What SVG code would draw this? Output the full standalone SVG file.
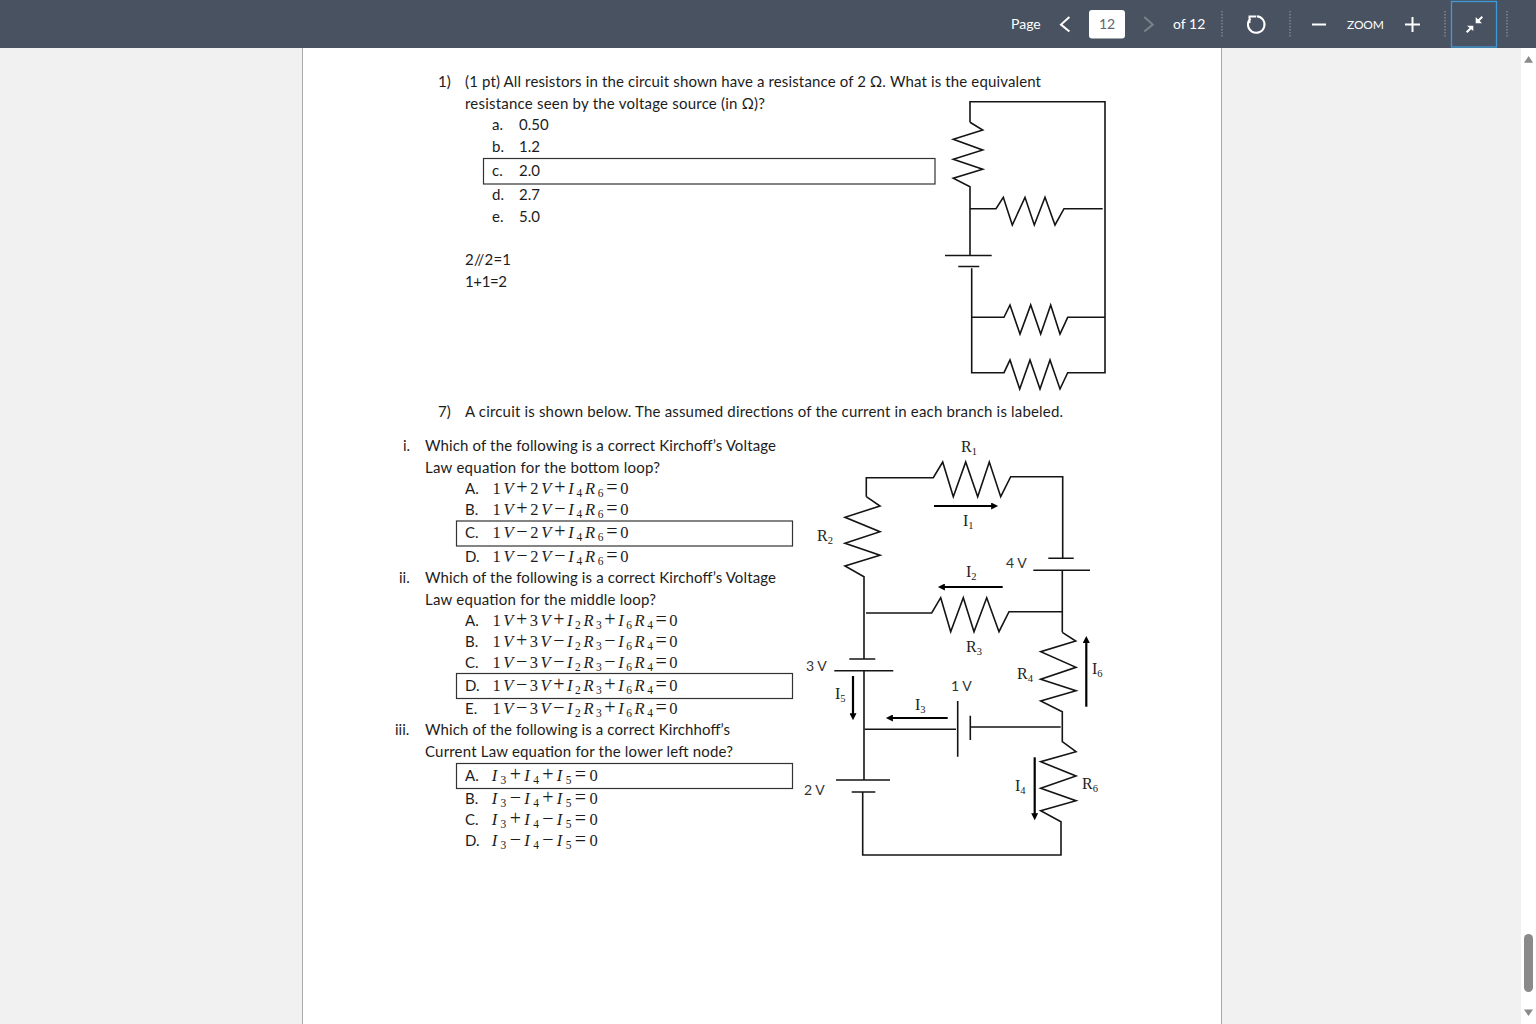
<svg xmlns="http://www.w3.org/2000/svg" width="1536" height="1024" viewBox="0 0 1536 1024">
<style>
text{font-family:"Lato","Carlito","Liberation Sans",sans-serif;font-size:15px;fill:#1c1c1c}
.m{font-family:"Liberation Serif","Times New Roman",serif;font-size:16.5px;white-space:pre}
.i{font-style:italic}
.s{font-size:11.5px}
.o{font-size:20px}
.l{font-family:"Liberation Serif","Times New Roman",serif;font-size:16px;fill:#222}
.l2{font-size:10.5px}
.v{font-size:14px;fill:#333}
.w{fill:none;stroke:#141414;stroke-width:1.6;stroke-linejoin:miter}
.a{fill:none;stroke:#000;stroke-width:2.2;marker-end:url(#ah)}
.b{fill:#fff;stroke:#333;stroke-width:1.2}
.t{font-size:14px;fill:#fff}
.sep{stroke:#7d8590;stroke-width:1.5;stroke-dasharray:1.5 1.5;fill:none}
.ic{fill:none;stroke:#fff;stroke-width:2}
</style>
<defs>
<marker id="ah" viewBox="0 0 8 8" refX="1" refY="4" markerWidth="8" markerHeight="7" markerUnits="userSpaceOnUse" orient="auto"><path d="M0 0L8 4L0 8z" fill="#000"/></marker>
</defs>
<rect width="1536" height="1024" fill="#f1f1f1"/>
<rect x="302.500" y="40" width="919" height="1000" fill="#fff" stroke="#a9a9a9"/>
<g id="scrollbar">
<rect x="1521" y="48" width="15" height="976" fill="#fff"/>
<path d="M1524 62.700L1528.700 56L1533 62.700z" fill="#8a8a8a"/>
<rect x="1524" y="934" width="9" height="58" rx="4.500" fill="#8a8a8a"/>
<path d="M1524 1009.500L1533 1009.500L1528.500 1016z" fill="#8a8a8a"/>
</g>
<g id="toolbar">
<rect width="1536" height="48" fill="#495260"/>
<text class="t" x="1011" y="29">Page</text>
<path class="ic" d="M1069.400 17L1061 24.600L1069.400 31.500"/>
<rect x="1089" y="10" width="36" height="28.500" rx="3" fill="#fff"/>
<text x="1107" y="29" text-anchor="middle" style="font-size:14px;fill:#5d6672">12</text>
<path class="ic" d="M1144.300 17L1152.800 24.600L1144.300 31.500" style="stroke:#7b828c"/>
<text class="t" x="1173" y="29">of 12</text>
<path class="sep" d="M1222 11V38M1290 11V38M1445 11V38M1507 11V38"/>
<path class="ic" d="M1250.500 18.500A8.300 8.300 0 1 0 1256.700 16.200M1249.500 23V16.500H1256"/>
<path class="ic" d="M1312 24.600H1326M1405 24.600H1420M1412.500 17V32"/>
<text x="1347" y="29" style="font-size:12px;fill:#fff" textLength="37">ZOOM</text>
<rect x="1451.500" y="1.500" width="45" height="45.500" fill="none" stroke="#3d9bd9" stroke-width="1.300"/>
<path d="M1482.300 16.700L1477.500 21.500M1466.700 32.300L1471.500 27.500" stroke="#fff" stroke-width="2" fill="none"/>
<path d="M1475.700 17V23.300H1482zM1473.300 31V25.700H1467z" fill="#fff"/>
</g>
<g id="answer-boxes">
<rect class="b" x="483.500" y="158.500" width="451.500" height="25.500"/>
<rect class="b" x="456.500" y="521" width="336" height="25"/>
<rect class="b" x="456.500" y="673.500" width="336" height="25"/>
<rect class="b" x="456.500" y="763.500" width="336" height="25"/>
</g>
<g id="question-1">
<text x="438" y="87">1)</text>
<text x="465" y="87" textLength="576">(1 pt) All resistors in the circuit shown have a resistance of 2 Ω. What is the equivalent</text>
<text x="465" y="109" textLength="300">resistance seen by the voltage source (in Ω)?</text>
<text x="492" y="130">a.</text><text x="519" y="130">0.50</text>
<text x="492" y="152">b.</text><text x="519" y="152">1.2</text>
<text x="492" y="176">c.</text><text x="519" y="176">2.0</text>
<text x="492" y="200">d.</text><text x="519" y="200">2.7</text>
<text x="492" y="222">e.</text><text x="519" y="222">5.0</text>
<text x="465" y="265" textLength="46">2//2=1</text>
<text x="465" y="287" textLength="42">1+1=2</text>
</g>
<g id="question-7">
<text x="438" y="417">7)</text>
<text x="465" y="417" textLength="598">A circuit is shown below. The assumed directions of the current in each branch is labeled.</text>
<text x="403" y="451">i.</text>
<text x="425" y="451" textLength="351">Which of the following is a correct Kirchoff’s Voltage</text>
<text x="425" y="473" textLength="235">Law equation for the bottom loop?</text>
<text x="465" y="494">A.</text>
<text class="m" x="492.500" y="494" textLength="136">1<tspan class="i">V</tspan><tspan class="o">+</tspan>2<tspan class="i">V</tspan><tspan class="o">+</tspan><tspan class="i">I</tspan><tspan class="s" dy="3">4</tspan><tspan class="i" dy="-3">R</tspan><tspan class="s" dy="3">6</tspan><tspan class="o" dy="-3">=</tspan>0</text>
<text x="465" y="515">B.</text>
<text class="m" x="492.500" y="515" textLength="136">1<tspan class="i">V</tspan><tspan class="o">+</tspan>2<tspan class="i">V</tspan><tspan class="o">−</tspan><tspan class="i">I</tspan><tspan class="s" dy="3">4</tspan><tspan class="i" dy="-3">R</tspan><tspan class="s" dy="3">6</tspan><tspan class="o" dy="-3">=</tspan>0</text>
<text x="465" y="538">C.</text>
<text class="m" x="492.500" y="538" textLength="136">1<tspan class="i">V</tspan><tspan class="o">−</tspan>2<tspan class="i">V</tspan><tspan class="o">+</tspan><tspan class="i">I</tspan><tspan class="s" dy="3">4</tspan><tspan class="i" dy="-3">R</tspan><tspan class="s" dy="3">6</tspan><tspan class="o" dy="-3">=</tspan>0</text>
<text x="465" y="562">D.</text>
<text class="m" x="492.500" y="562" textLength="136">1<tspan class="i">V</tspan><tspan class="o">−</tspan>2<tspan class="i">V</tspan><tspan class="o">−</tspan><tspan class="i">I</tspan><tspan class="s" dy="3">4</tspan><tspan class="i" dy="-3">R</tspan><tspan class="s" dy="3">6</tspan><tspan class="o" dy="-3">=</tspan>0</text>
<text x="399" y="583">ii.</text>
<text x="425" y="583" textLength="351">Which of the following is a correct Kirchoff’s Voltage</text>
<text x="425" y="605" textLength="231">Law equation for the middle loop?</text>
<text x="465" y="626">A.</text>
<text class="m" x="492.500" y="626" textLength="185">1<tspan class="i">V</tspan><tspan class="o">+</tspan>3<tspan class="i">V</tspan><tspan class="o">+</tspan><tspan class="i">I</tspan><tspan class="s" dy="3">2</tspan><tspan class="i" dy="-3">R</tspan><tspan class="s" dy="3">3</tspan><tspan class="o" dy="-3">+</tspan><tspan class="i">I</tspan><tspan class="s" dy="3">6</tspan><tspan class="i" dy="-3">R</tspan><tspan class="s" dy="3">4</tspan><tspan class="o" dy="-3">=</tspan>0</text>
<text x="465" y="647">B.</text>
<text class="m" x="492.500" y="647" textLength="185">1<tspan class="i">V</tspan><tspan class="o">+</tspan>3<tspan class="i">V</tspan><tspan class="o">−</tspan><tspan class="i">I</tspan><tspan class="s" dy="3">2</tspan><tspan class="i" dy="-3">R</tspan><tspan class="s" dy="3">3</tspan><tspan class="o" dy="-3">−</tspan><tspan class="i">I</tspan><tspan class="s" dy="3">6</tspan><tspan class="i" dy="-3">R</tspan><tspan class="s" dy="3">4</tspan><tspan class="o" dy="-3">=</tspan>0</text>
<text x="465" y="668">C.</text>
<text class="m" x="492.500" y="668" textLength="185">1<tspan class="i">V</tspan><tspan class="o">−</tspan>3<tspan class="i">V</tspan><tspan class="o">−</tspan><tspan class="i">I</tspan><tspan class="s" dy="3">2</tspan><tspan class="i" dy="-3">R</tspan><tspan class="s" dy="3">3</tspan><tspan class="o" dy="-3">−</tspan><tspan class="i">I</tspan><tspan class="s" dy="3">6</tspan><tspan class="i" dy="-3">R</tspan><tspan class="s" dy="3">4</tspan><tspan class="o" dy="-3">=</tspan>0</text>
<text x="465" y="691">D.</text>
<text class="m" x="492.500" y="691" textLength="185">1<tspan class="i">V</tspan><tspan class="o">−</tspan>3<tspan class="i">V</tspan><tspan class="o">+</tspan><tspan class="i">I</tspan><tspan class="s" dy="3">2</tspan><tspan class="i" dy="-3">R</tspan><tspan class="s" dy="3">3</tspan><tspan class="o" dy="-3">+</tspan><tspan class="i">I</tspan><tspan class="s" dy="3">6</tspan><tspan class="i" dy="-3">R</tspan><tspan class="s" dy="3">4</tspan><tspan class="o" dy="-3">=</tspan>0</text>
<text x="465" y="714">E.</text>
<text class="m" x="492.500" y="714" textLength="185">1<tspan class="i">V</tspan><tspan class="o">−</tspan>3<tspan class="i">V</tspan><tspan class="o">−</tspan><tspan class="i">I</tspan><tspan class="s" dy="3">2</tspan><tspan class="i" dy="-3">R</tspan><tspan class="s" dy="3">3</tspan><tspan class="o" dy="-3">+</tspan><tspan class="i">I</tspan><tspan class="s" dy="3">6</tspan><tspan class="i" dy="-3">R</tspan><tspan class="s" dy="3">4</tspan><tspan class="o" dy="-3">=</tspan>0</text>
<text x="395" y="735">iii.</text>
<text x="425" y="735" textLength="305">Which of the following is a correct Kirchhoff’s</text>
<text x="425" y="757" textLength="308">Current Law equation for the lower left node?</text>
<text x="465" y="781">A.</text>
<text class="m" x="491.700" y="781" textLength="106"><tspan class="i">I</tspan><tspan class="s" dy="3">3</tspan><tspan class="o" dy="-3">+</tspan><tspan class="i">I</tspan><tspan class="s" dy="3">4</tspan><tspan class="o" dy="-3">+</tspan><tspan class="i">I</tspan><tspan class="s" dy="3">5</tspan><tspan class="o" dy="-3">=</tspan>0</text>
<text x="465" y="804">B.</text>
<text class="m" x="491.700" y="804" textLength="106"><tspan class="i">I</tspan><tspan class="s" dy="3">3</tspan><tspan class="o" dy="-3">−</tspan><tspan class="i">I</tspan><tspan class="s" dy="3">4</tspan><tspan class="o" dy="-3">+</tspan><tspan class="i">I</tspan><tspan class="s" dy="3">5</tspan><tspan class="o" dy="-3">=</tspan>0</text>
<text x="465" y="825">C.</text>
<text class="m" x="491.700" y="825" textLength="106"><tspan class="i">I</tspan><tspan class="s" dy="3">3</tspan><tspan class="o" dy="-3">+</tspan><tspan class="i">I</tspan><tspan class="s" dy="3">4</tspan><tspan class="o" dy="-3">−</tspan><tspan class="i">I</tspan><tspan class="s" dy="3">5</tspan><tspan class="o" dy="-3">=</tspan>0</text>
<text x="465" y="846">D.</text>
<text class="m" x="491.700" y="846" textLength="106"><tspan class="i">I</tspan><tspan class="s" dy="3">3</tspan><tspan class="o" dy="-3">−</tspan><tspan class="i">I</tspan><tspan class="s" dy="3">4</tspan><tspan class="o" dy="-3">−</tspan><tspan class="i">I</tspan><tspan class="s" dy="3">5</tspan><tspan class="o" dy="-3">=</tspan>0</text>
</g>
<g id="circuit-1-connectors">
<path class="w" d="M970 122.300V101.700H1105V372.700H1067.700L1060 389L1050 360L1040 389L1030 360L1019.700 389L1010 360L1004 372.700H971.700V268.300"/>
<path class="w" d="M970 122.300L982.700 130L953.300 139.300L982.700 150L953.300 159.300L982.700 169.300L953.300 178.300L970 186.700V255"/>
<path class="w" d="M970 208.700H996L1003.300 197.300L1012.300 225L1025 197.300L1034.300 225L1045 197.300L1055 225L1064 208.700H1102.700"/>
<path class="w" d="M945 255.500H991.700M958.300 266.500H979.300"/>
<path class="w" d="M971.700 317.300H1004L1010 305L1020 334L1030.700 305L1040.700 334L1050.700 305L1060 334L1067.700 317.300H1105"/>
</g>
<g id="circuit-7-connectors">
<path class="w" d="M866.300 496.700V477.700H933.300L942.700 462L953.300 496.700L965.700 462L977.700 496.700L989.300 462L1000.700 496.700L1010.700 476.700H1062.700V558.300"/>
<path class="w" d="M866.300 496.700L880 506L845 517.300L880 531.700L845 543.300L880 555.300L845 566L864 576.700V659"/>
<path class="w" d="M1048.300 558.300H1073.700M1033.300 570.300H1090M1062.300 570.300V632.300"/>
<path class="w" d="M866 613H931.700L940.700 597.700L950.700 631.700L963.300 597.700L974 631.700L986.700 597.700L999 631.700L1009 611.700H1062.300"/>
<path class="w" d="M1062.300 632.300L1075.700 641L1040.700 651.700L1076 667.300L1040.700 679.300L1076 690.700L1040.700 701L1062.300 711.700V741.700L1076 751.700L1040.700 761.700L1076 776L1040.700 788.300L1076 800.700L1040.700 810.700L1061 821.700V855H862.700V792"/>
<path class="w" d="M849.300 659H875.300M834.300 670.700H893.300M864 670.700V780M836 780H890M851.700 792H875.300"/>
<path class="w" d="M864.700 729.300H956M957.700 701V756.700M970.300 715.700V740M970.300 727H1060.700"/>
</g>
<g id="current-arrows">
<path class="a" d="M934 506H992"/>
<path class="a" d="M1002.700 587H944"/>
<path class="a" d="M1086.300 706.700V642"/>
<path class="a" d="M853 676V714"/>
<path class="a" d="M947.700 718H892"/>
<path class="a" d="M1034.700 757.300V814"/>
</g>
<g id="circuit-labels">
<text class="l" x="961" y="452">R<tspan class="l2" dy="3">1</tspan></text>
<text class="l" x="817" y="541">R<tspan class="l2" dy="3">2</tspan></text>
<text class="l" x="966" y="652">R<tspan class="l2" dy="3">3</tspan></text>
<text class="l" x="1017" y="679">R<tspan class="l2" dy="3">4</tspan></text>
<text class="l" x="1082" y="789">R<tspan class="l2" dy="3">6</tspan></text>
<text class="l" x="963" y="526">I<tspan class="l2" dy="3">1</tspan></text>
<text class="l" x="966" y="577">I<tspan class="l2" dy="3">2</tspan></text>
<text class="l" x="915" y="710">I<tspan class="l2" dy="3">3</tspan></text>
<text class="l" x="1015" y="791">I<tspan class="l2" dy="3">4</tspan></text>
<text class="l" x="835" y="699">I<tspan class="l2" dy="3">5</tspan></text>
<text class="l" x="1092" y="674">I<tspan class="l2" dy="3">6</tspan></text>
<text class="v" x="1006" y="568">4 V</text>
<text class="v" x="806" y="671">3 V</text>
<text class="v" x="951" y="691">1 V</text>
<text class="v" x="804" y="795">2 V</text>
</g>
</svg>
